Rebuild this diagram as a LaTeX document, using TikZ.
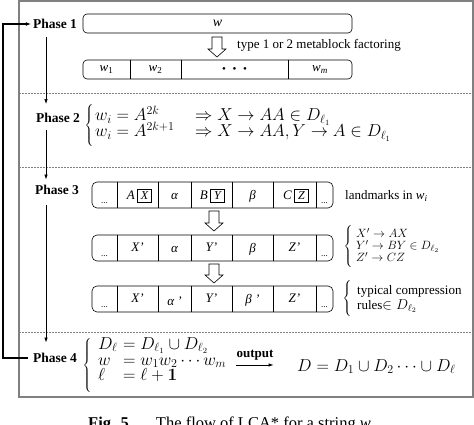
\documentclass[tikz,border=0pt]{standalone}
\usepackage[no-math]{fontspec}
\setmainfont{Liberation Serif}
\usetikzlibrary{arrows.meta}
\newcommand\hollowdown[3]{%
  \draw[hollowarr] (#1-5,#2) -- (#1+5,#2) -- (#1+5,#3-8) -- (#1+9,#3-8) -- (#1,#3) -- (#1-9,#3-8) -- (#1-5,#3-8) -- cycle;}
\newcommand\rowbox[1]{%
  \draw[cell, rounded corners=5pt] (92,#1) rectangle (333,#1+26);
  \foreach \xx in {117,158,191,232,273,316} {\draw[cell] (\xx,#1) -- (\xx,#1+26);}}
\begin{document}
\begin{tikzpicture}[x=1pt,y=-1pt,
  lab/.style={font=\fontsize{13.5}{14}\selectfont\bfseries, inner sep=2pt},
  txt/.style={font=\fontsize{13}{14}\selectfont, inner sep=0pt},
  ctxt/.style={font=\fontsize{13}{14}\selectfont\itshape, inner sep=0pt},
  dots/.style={font=\fontsize{9}{10}\selectfont, inner sep=0pt, anchor=base},
  mth/.style={font=\fontsize{16.5}{17}\selectfont, inner sep=0pt, anchor=base west},
  smth/.style={font=\fontsize{13}{12}\selectfont, inner sep=0pt, anchor=base west},
  cell/.style={draw, line width=0.6pt},
  flow/.style={-{Latex[length=5pt,width=3.5pt]}, line width=0.7pt},
  sepline/.style={draw=gray, dash pattern=on 1.5pt off 1.5pt, line width=0.6pt},
  hollowarr/.style={draw, line width=0.6pt, fill=white},
  boxed/.style={draw, line width=1.4pt, inner sep=0pt, minimum width=14pt, minimum height=13pt, font=\fontsize{12}{12}\selectfont\itshape},
  brace/.style={inner sep=0pt}
]
\useasboundingbox (0,0) rectangle (474,425);
\clip (0,0) rectangle (474,425);
\nulldelimiterspace=0pt
% frame and separators
\draw[gray, line width=1.2pt] (19,1) rectangle (473,397);
\draw[sepline] (19,93) -- (473,93);
\draw[sepline] (19,167) -- (473,167);
\draw[sepline] (19,332) -- (473,332);

% phase labels
\node[lab] (p1) at (55,24) {Phase 1};
\node[lab] (p2) at (58,118) {Phase 2};
\node[lab] (p3) at (57,190) {Phase 3};
\node[lab] (p4) at (55,358) {Phase 4};

% flow arrows
\coordinate (ax) at (46,0);
\draw[flow] ([yshift=-6pt]p1.south -| ax) -- ([yshift=7pt]p2.north -| ax);
\draw[flow] ([yshift=-5.5pt]p2.south -| ax) -- ([yshift=3.5pt]p3.north -| ax);
\draw[flow] ([yshift=-8pt]p3.south -| ax) -- ([yshift=8.5pt]p4.north -| ax);

% loop back
\coordinate (lt) at (3,24);
\coordinate (lb) at (3,358);
\draw[line width=2.4pt, line cap=rect] (lb) -- (lt);
\draw[line width=1.4pt, -{Latex[length=5pt,width=4pt]}] ([xshift=-1.2pt]lt) -- (p1.west);
\draw[line width=1.4pt] ([xshift=-3pt]p4.west) -- ([xshift=-1.2pt]lb);

% Phase 1
\node[cell, rounded corners=4pt, minimum width=269pt, minimum height=19pt, inner sep=0pt, font=\fontsize{14}{14}\selectfont\itshape] (wbox) at (217.5,23.5) {w};
\hollowdown{217}{37}{57}
\node[txt, anchor=base west] (fact) at (237,49) {type 1 or 2 metablock factoring};
\draw[cell, rounded corners=4pt] (83,60) rectangle (352,79);
\foreach \xx in {130,181,288} {\draw[cell] (\xx,60) -- (\xx,79);}
\node[ctxt] (w1) at (106.5,69.5) {w\textsubscript{\upshape 1}};
\node[ctxt] (w2) at (155.5,69.5) {w\textsubscript{\upshape 2}};
\node[txt, font=\fontsize{11}{12}\selectfont] (wd) at (234.5,70) {\textbullet\hspace{0.6em}\textbullet\hspace{0.6em}\textbullet};
\node[ctxt] (wm) at (320,69.5) {w\textsubscript{m}};

% Phase 2
\node[brace] (b2) at (89,125.5) {\fontsize{16.5}{17}\selectfont$\left\{\vrule height 17pt depth 17pt width 0pt\right.$};
\node[mth] (e1a) at (95,121) {$w_i = A^{2k}$};
\node[mth] (e1b) at (195,121) {$\Rightarrow X \rightarrow AA \in D_{\ell_1}$};
\node[mth] (e2a) at (95,137) {$w_i = A^{2k+1}$};
\node[mth] (e2b) at (195,137) {$\Rightarrow X \rightarrow AA, Y \rightarrow A \in D_{\ell_1}$};

% Phase 3 rows
\rowbox{182}
\rowbox{235}
\rowbox{286}
\hollowdown{214}{211}{231}
\hollowdown{214}{264}{283}
% row 1
\node[dots] (r1a) at (104.5,203) {...};
\node[ctxt, anchor=east] (r1A) at (135,195.5) {A};
\node[boxed] (r1X) at (144.5,196) {X};
\node[ctxt] (r1al) at (174.5,197) {α};
\node[ctxt, anchor=east] (r1B) at (208,195.5) {B};
\node[boxed] (r1Y) at (217.5,196) {Y};
\node[ctxt] (r1be) at (252.5,196) {β};
\node[ctxt, anchor=east] (r1C) at (292,195.5) {C};
\node[boxed] (r1Z) at (301.5,196) {Z};
\node[dots] (r1b) at (324.5,203) {...};
\node[txt, anchor=base west] (land) at (345,200) {landmarks in \textit{w}\textsubscript{\itshape i}};
% row 2
\node[dots] (r2a) at (104.5,256) {...};
\node[ctxt] (r2X) at (137.5,247) {X’};
\node[ctxt] (r2al) at (174.5,250) {α};
\node[ctxt] (r2Y) at (211.5,247) {Y’};
\node[ctxt] (r2be) at (252.5,249) {β};
\node[ctxt] (r2Z) at (294.5,247) {Z’};
\node[dots] (r2b) at (324.5,256) {...};
\node[brace] (b3) at (348,246.5) {\fontsize{11}{12}\selectfont$\left\{\vrule height 18pt depth 18pt width 0pt\right.$};
\node[smth] (s1) at (356,237.5) {$X' \rightarrow AX$};
\node[smth] (s2) at (356,249.5) {$Y' \rightarrow BY \in D_{\ell_2}$};
\node[smth] (s3) at (356,261.5) {$Z' \rightarrow CZ$};
% row 3
\node[dots] (r3a) at (104.5,307) {...};
\node[ctxt] (r3X) at (137.5,298) {X’};
\node[ctxt] (r3al) at (174.5,301) {α ’};
\node[ctxt] (r3Y) at (211.5,298) {Y’};
\node[ctxt] (r3be) at (252.5,300) {β ’};
\node[ctxt] (r3Z) at (294.5,298) {Z’};
\node[dots] (r3b) at (324.5,307) {...};
\node[brace] (b4) at (347,298.5) {\fontsize{11}{12}\selectfont$\left\{\vrule height 15pt depth 15pt width 0pt\right.$};
\node[txt, anchor=base west] (tc1) at (357,294) {typical compression};
\node[txt, anchor=base west] (tc2) at (357,309) {rules\fontsize{14}{14}\selectfont$\in D_{\ell_2}$};

% Phase 4
\node[brace] (b5) at (87,366) {\fontsize{16.5}{17}\selectfont$\left\{\vrule height 23pt depth 23pt width 0pt\right.$};
\node[mth] (f1a) at (98,349) {$D_\ell$};
\node[mth] (f1b) at (123,349) {$= D_{\ell_1} \cup D_{\ell_2}$};
\node[mth] (f2a) at (98,365) {$w$};
\node[mth] (f2b) at (123,365) {$= w_1 w_2 \cdots w_m$};
\node[mth] (f3a) at (98,380) {$\ell$};
\node[mth] (f3b) at (123,380) {$= \ell + \mathbf{1}$};
\node[txt, font=\fontsize{13}{14}\selectfont\bfseries, anchor=base] (out) at (255,357) {output};
\node[mth] (res) at (297,371) {$D = D_1 \cup D_2 \cdots \cup D_\ell$};
\draw[-{Latex[length=5pt,width=3.5pt]}, line width=0.8pt] ([yshift=-5pt]out.south west) -- ([yshift=-5pt]out.south east);

% caption
\node[anchor=base west, inner sep=0pt, font=\fontsize{16.5}{17}\selectfont] (cap) at (88,428) {\textbf{Fig. 5}\hspace{27pt}The flow of LCA* for a string \textit{w}};
\end{tikzpicture}
\end{document}
